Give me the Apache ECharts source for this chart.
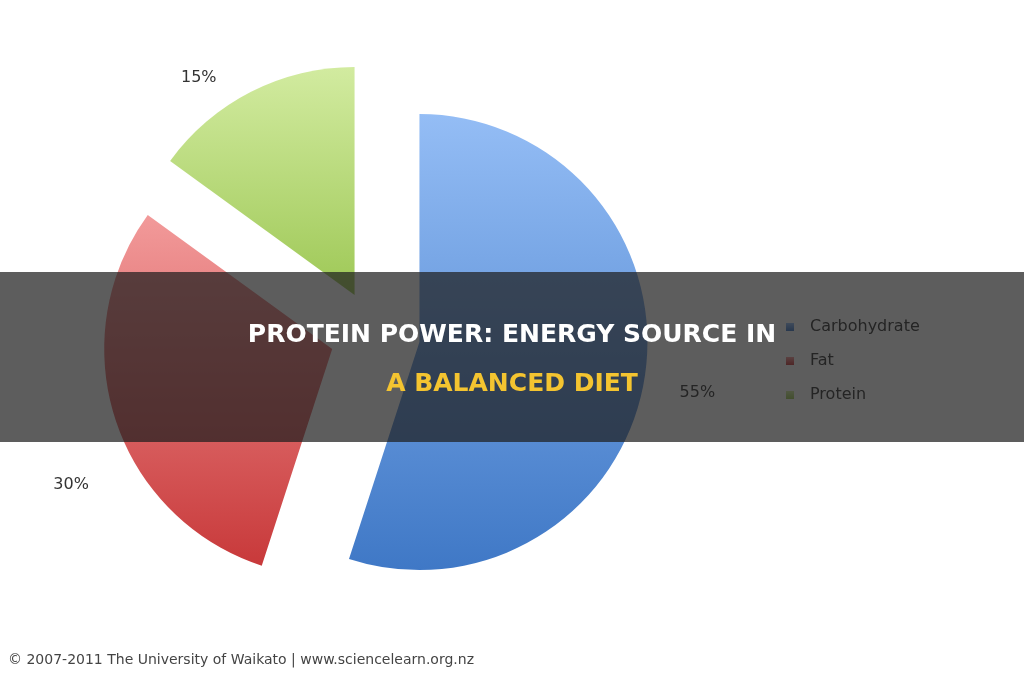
<!DOCTYPE html>
<html><head><meta charset="utf-8">
<script src="https://cdn.jsdelivr.net/npm/echarts@6/dist/echarts.min.js"></script>
<style>html,body{margin:0;padding:0;background:#fff}#c{width:1024px;height:682px}</style>
</head><body><div id="c"></div>
<script>
const categories = ['Carbohydrate', 'Fat', 'Protein'];
const values = [55, 30, 15];
const titleLines = ['PROTEIN POWER: ENERGY SOURCE IN', 'A BALANCED DIET'];
const footer = '© 2007-2011 The University of Waikato | www.sciencelearn.org.nz';
const grads = [['#94bdf5','#3f78c6'],['#f29a9a','#c8393a'],['#d2eba0','#9ec856']];
const labelShift = [[0,14],[8,62],[-5,-5]];
const chart = echarts.init(document.getElementById('c'));
const lin = c => new echarts.graphic.LinearGradient(0,0,0,1,[{offset:0,color:c[0]},{offset:1,color:c[1]}]);
chart.setOption({
  animation:false,
  legend:{orient:'vertical',left:781,top:314,itemWidth:8,itemHeight:8,itemGap:18,icon:'rect',
    textStyle:{fontSize:16,color:'#333',fontFamily:'DejaVu Sans',padding:[0,0,0,11]},data:categories},
  series:[{type:'pie',center:[375,335],radius:[0,228],startAngle:90,clockwise:true,
    selectedMode:'multiple',selectedOffset:45,
    label:{show:true,position:'outside',formatter:'{d}%',fontSize:16,color:'#333',fontFamily:'DejaVu Sans'},
    labelLine:{show:false,length:10,length2:20},
    labelLayout:p=>({dx:labelShift[p.dataIndex][0],dy:labelShift[p.dataIndex][1]}),
    data:categories.map((n,i)=>({name:n,value:values[i],selected:true,itemStyle:{color:lin(grads[i])}}))
  }],
  graphic:[
    {type:'rect',z:100,shape:{x:0,y:272,width:1024,height:170},style:{fill:'rgba(30,30,30,0.72)'}},
    {type:'text',z:101,left:'center',top:323,style:{text:titleLines[0],fill:'#ffffff',font:'bold 25px "DejaVu Sans"'}},
    {type:'text',z:101,left:'center',top:372,style:{text:titleLines[1],fill:'#f4c430',font:'bold 25px "DejaVu Sans"'}},
    {type:'text',left:8,top:653,style:{text:footer,fill:'#444',font:'14px "DejaVu Sans"'}}
  ]
});
</script></body></html>
